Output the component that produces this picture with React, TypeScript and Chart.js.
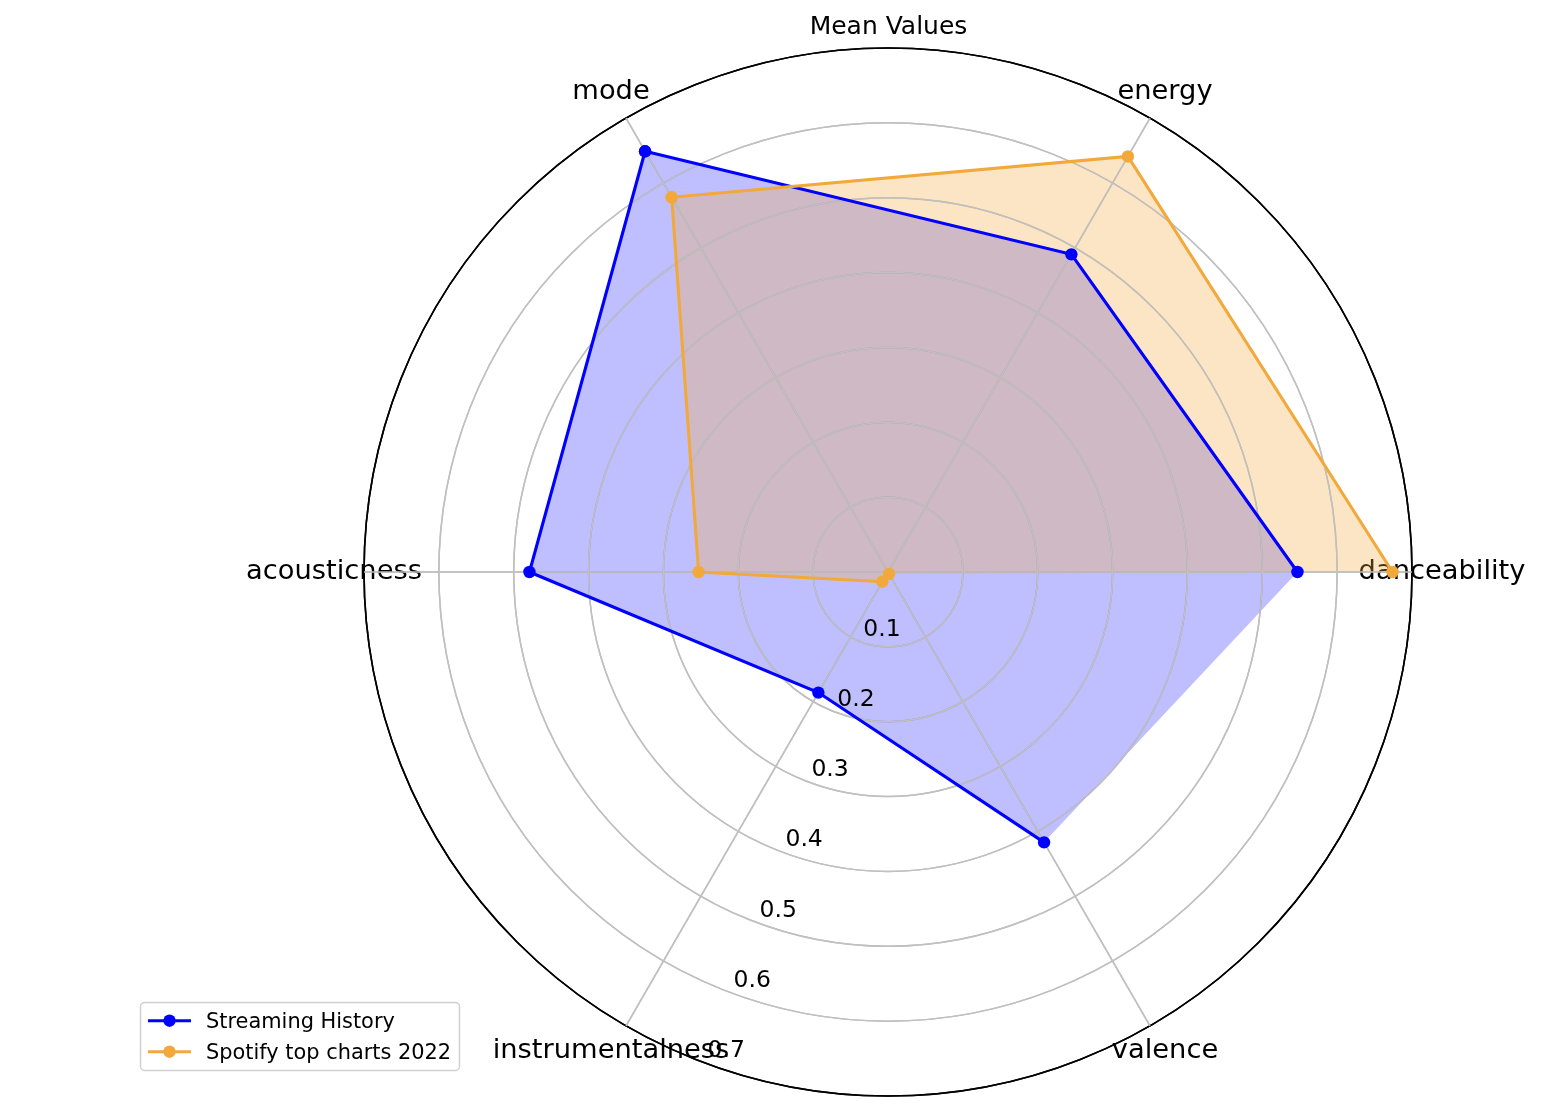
import { useEffect, useRef } from "react";
import { Chart, registerables } from "chart.js";

Chart.register(...registerables);

// axes listed clockwise, starting at valence (lower right)
const features = ["valence", "instrumentalness", "acousticness", "mode", "energy", "danceability"];
const streamingHistory = [0.417, 0.186, 0.479, 0.649, 0.49, 0.547];
const topCharts2022 = [0.003, 0.015, 0.253, 0.578, 0.641, 0.674];
const seriesNames = ["Streaming History", "Spotify top charts 2022"];
const seriesColors = ["#0000ff", "#f2a93b"];
const fillColors = ["rgba(0, 0, 255, 0.25)", "rgba(242, 169, 59, 0.3)"];
const radialTicks = [0.1, 0.2, 0.3, 0.4, 0.5, 0.6, 0.7];
const chartTitle = "Mean Values";

const FONT = "'DejaVu Sans', 'Noto Sans', sans-serif";

// the line is not closed between the last and first axis, so split it in two runs
const part = (values: number[], from: number, to: number) =>
  values.map((v, i) => (i >= from && i <= to ? v : null));

const decorations = {
  id: "decorations",
  beforeDatasetsDraw(chart: any) {
    const ctx = chart.ctx;
    const scale = chart.scales.r;
    ctx.save();
    ctx.fillStyle = "#000";
    ctx.font = `27.3px ${FONT}`;
    ctx.textAlign = "center";
    ctx.textBaseline = "alphabetic";
    features.forEach((label, i) => {
      const p = scale.getPointPosition(i, scale.drawingArea + 30);
      ctx.fillText(label, p.x, p.y + 6.5);
    });
    ctx.restore();
  },
  // grid sits above the fills but below the lines, as in matplotlib
  afterDatasetDraw(chart: any, args: any) {
    if (args.index === seriesNames.length - 1) {
      chart.scales.r.drawGrid();
    }
  },
  afterDraw(chart: any) {
    const ctx = chart.ctx;
    const scale = chart.scales.r;
    ctx.save();
    ctx.fillStyle = "#000";
    ctx.textAlign = "center";
    ctx.textBaseline = "alphabetic";

    // radial tick labels
    ctx.font = `23.5px ${FONT}`;
    const a = (110.3 * Math.PI) / 180;
    radialTicks.forEach((t) => {
      const d = scale.getDistanceFromCenterForValue(t);
      const x = scale.xCenter + d * Math.cos(a) + 20;
      const y = scale.yCenter + d * Math.sin(a) - 15;
      ctx.fillText(String(t), x, y + 8.6);
    });

    // title
    ctx.font = `25px ${FONT}`;
    ctx.fillText(chartTitle, scale.xCenter + 0.5, 34);

    // legend
    ctx.beginPath();
    ctx.roundRect(140.5, 1002.5, 319, 68, 4);
    ctx.fillStyle = "rgba(255,255,255,0.8)";
    ctx.fill();
    ctx.strokeStyle = "#d0d0d0";
    ctx.lineWidth = 1.5;
    ctx.stroke();
    ctx.font = `20.9px ${FONT}`;
    ctx.textAlign = "left";
    seriesNames.forEach((name, i) => {
      const y = 1020.7 + i * 31;
      ctx.strokeStyle = seriesColors[i];
      ctx.lineWidth = 3;
      ctx.beginPath();
      ctx.moveTo(148, y);
      ctx.lineTo(191, y);
      ctx.stroke();
      ctx.fillStyle = seriesColors[i];
      ctx.beginPath();
      ctx.arc(169.5, y, 6.2, 0, Math.PI * 2);
      ctx.fill();
      ctx.fillStyle = "#000";
      ctx.fillText(name, 206, y + 7.3);
    });
    ctx.restore();
  },
};

const seriesValues = [streamingHistory, topCharts2022];

function fillDataset(values: number[], k: number) {
  return {
    label: seriesNames[k] + " fill",
    data: values,
    fill: true,
    backgroundColor: fillColors[k],
    borderColor: "rgba(0,0,0,0)",
    borderWidth: 0,
    pointRadius: 0,
    order: 10 - k,
  };
}

function lineDatasets(values: number[], k: number) {
  const line = {
    fill: false,
    borderColor: seriesColors[k],
    borderWidth: 3.1,
    pointRadius: 6.2,
    pointBackgroundColor: seriesColors[k],
    pointBorderColor: seriesColors[k],
    pointBorderWidth: 0,
    order: 5 - k,
  };
  return [
    { ...line, label: seriesNames[k], data: part(values, 0, 3) },
    { ...line, label: seriesNames[k] + " (2)", data: part(values, 3, features.length - 1) },
  ];
}

export default function App() {
  const canvasRef = useRef<HTMLCanvasElement | null>(null);

  useEffect(() => {
    document.body.style.margin = "0";
    if (!canvasRef.current) return;
    const chart = new Chart(canvasRef.current, {
      type: "radar",
      data: {
        labels: features,
        datasets: [
          ...seriesValues.map((v, k) => fillDataset(v, k)),
          ...seriesValues.flatMap((v, k) => lineDatasets(v, k)),
        ] as any,
      },
      options: {
        responsive: false,
        animation: false,
        events: [],
        layout: { padding: { left: 364, right: 146, top: 48, bottom: 16 } },
        elements: { line: { tension: 0 } },
        plugins: {
          legend: { display: false },
          tooltip: { enabled: false },
        },
        scales: {
          r: {
            min: 0,
            max: 0.7,
            startAngle: 150,
            ticks: { display: false, stepSize: 0.1 },
            grid: {
              circular: true,
              color: (c: any) => (c.index === radialTicks.length ? "#000" : "#c0c0c0"),
              lineWidth: (c: any) => (c.index === radialTicks.length ? 1.6 : 1.5),
            },
            angleLines: { color: "#c0c0c0", lineWidth: 1.5 },
            pointLabels: { display: false },
          },
        },
      },
      plugins: [decorations],
    });
    return () => chart.destroy();
  }, []);

  return <canvas ref={canvasRef} width={1558} height={1112} style={{ display: "block" }} />;
}
